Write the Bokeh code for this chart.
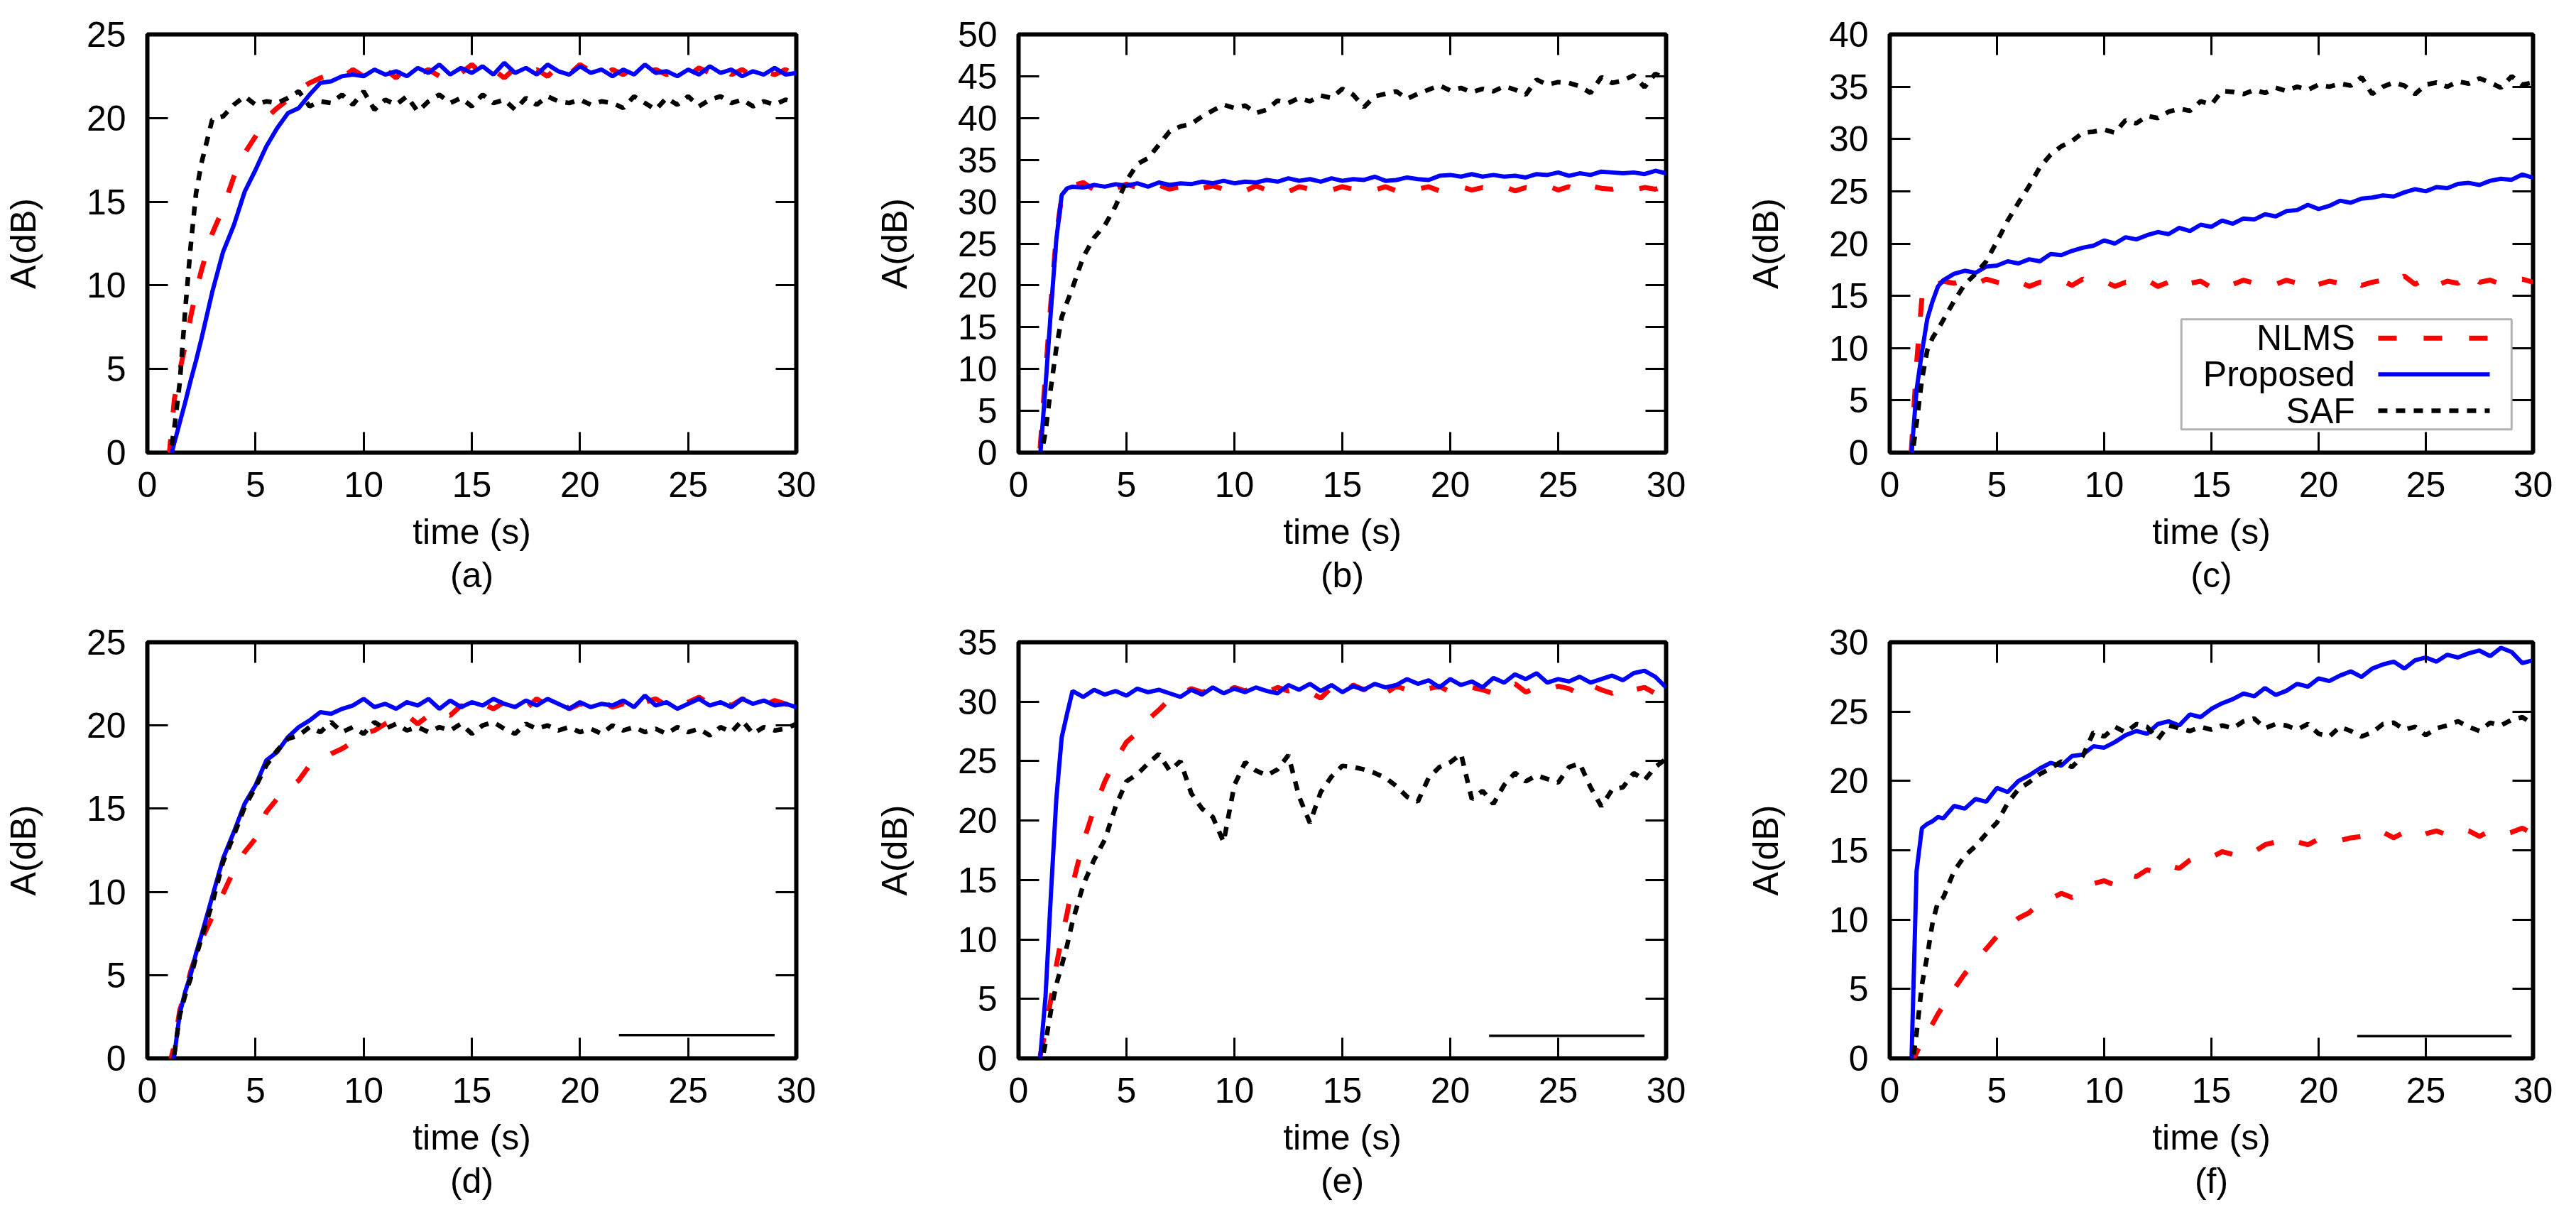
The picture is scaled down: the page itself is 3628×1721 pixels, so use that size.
from bokeh.plotting import figure
from bokeh.models import (Range1d, FixedTicker, LinearAxis, CustomJSTickFormatter,
                          Title, Label, BoxAnnotation, Arrow)
from bokeh.layouts import row, column
from bokeh.embed import file_html
from bokeh.resources import INLINE

FONT = "Liberation Sans"
FS = "50px"

# ---------------- data ----------------
T = [1.0, 1.25, 1.5, 1.75, 2.0, 2.25, 2.5,
     3.0, 3.5, 4.0, 4.5, 5.0, 5.5, 6.0, 6.5, 7.0, 7.5,
     8.0, 8.5, 9.0, 9.5, 10.0, 10.5, 11.0, 11.5, 12.0, 12.5,
     13.0, 13.5, 14.0, 14.5, 15.0, 15.5, 16.0, 16.5, 17.0, 17.5,
     18.0, 18.5, 19.0, 19.5, 20.0, 20.5, 21.0, 21.5, 22.0, 22.5,
     23.0, 23.5, 24.0, 24.5, 25.0, 25.5, 26.0, 26.5, 27.0, 27.5,
     28.0, 28.5, 29.0, 29.5, 30.0]

x_ticks = [0, 5, 10, 15, 20, 25, 30]
series_names = ["NLMS", "Proposed", "SAF"]
panel_tags = ["(a)", "(b)", "(c)", "(d)", "(e)", "(f)"]
y_max = [25, 50, 40, 25, 35, 30]

a_nlms = [-0.3, 3.2, 4.9, 6.4, 8.1, 9.6, 10.9,
          13.1, 14.6, 16.5, 17.9, 18.9, 20.0, 20.6, 21.1, 21.7, 22.1,
          22.4, 22.6, 22.4, 22.9, 22.5, 22.7, 22.9, 22.4, 23.1, 22.6,
          22.9, 22.5, 23.0, 22.7, 23.2, 22.6, 22.9, 22.4, 23.0, 22.7,
          22.9, 22.5, 23.1, 22.6, 23.2, 22.8, 22.5, 22.9, 22.6, 23.0,
          22.7, 22.9, 22.6, 22.8, 22.5, 23.0, 22.7, 23.1, 22.6, 22.9,
          22.5, 22.8, 22.6, 22.9, 22.5]
a_prop = [-0.7, 0.6, 1.8, 3.0, 4.3, 5.5, 6.8,
          9.6, 12.0, 13.6, 15.6, 16.9, 18.3, 19.4, 20.3, 20.6, 21.4,
          22.1, 22.2, 22.5, 22.6, 22.5, 22.9, 22.6, 22.8, 22.5, 23.0,
          22.7, 23.2, 22.6, 23.0, 22.7, 23.1, 22.6, 23.3, 22.7, 23.0,
          22.6, 23.2, 22.8, 22.6, 23.1, 22.7, 22.9, 22.5, 22.9, 22.6,
          23.2, 22.7, 22.8, 22.5, 22.9, 22.6, 23.1, 22.7, 22.9, 22.5,
          22.8, 22.6, 23.0, 22.6, 22.7]
a_saf = [-0.6, 1.5, 4.2, 8.5, 12.3, 15.5, 17.3,
         19.9, 20.1, 20.8, 21.3, 20.8, 21.0, 20.9, 21.2, 21.6, 20.7,
         21.0, 20.9, 21.4, 20.8, 21.6, 20.5, 21.1, 20.8, 21.3, 20.4,
         21.0, 21.4, 20.9, 21.2, 20.7, 21.4, 20.9, 21.1, 20.5, 21.2,
         20.8, 21.3, 21.0, 20.9, 21.1, 20.8, 21.0, 20.9, 20.6, 21.3,
         20.9, 20.5, 21.2, 20.8, 21.3, 20.7, 21.1, 21.3, 20.9, 21.1,
         20.7, 21.0, 20.8, 21.1, 20.9]

b_nlms = [0.5, 9.5, 18.0, 26.0, 30.6, 31.5, 31.9,
          32.3, 31.4, 32.0, 31.6, 32.1, 31.7, 31.4, 32.0, 31.5, 31.8,
          32.1, 31.6, 31.9, 31.5, 31.8, 31.3, 31.9, 31.4, 31.7, 31.2,
          31.8, 31.5, 31.7, 31.4, 31.8, 31.5, 31.7, 31.4, 31.8, 31.3,
          31.7, 31.5, 31.8, 31.3, 31.6, 31.8, 31.4, 31.7, 31.5, 31.8,
          31.3, 31.7, 31.5, 31.9, 31.4, 31.8, 31.3, 31.9, 31.6, 31.5,
          31.8, 31.4, 31.7, 31.5, 31.8]
b_prop = [-0.5, 8.0, 17.0, 25.5, 30.8, 31.6, 31.8,
          31.7, 32.0, 31.8, 32.1, 31.9, 32.2, 31.8, 32.3, 32.0, 32.2,
          32.1, 32.4, 32.2, 32.5, 32.2, 32.4, 32.3, 32.6, 32.4, 32.8,
          32.5, 32.7, 32.4, 32.8, 32.5, 32.7, 32.6, 33.0, 32.5, 32.6,
          32.9, 32.7, 32.6, 33.1, 33.2, 33.0, 33.3, 33.0, 33.2, 33.0,
          33.1, 32.9, 33.3, 33.2, 33.5, 33.1, 33.4, 33.2, 33.6, 33.5,
          33.4, 33.5, 33.3, 33.7, 33.4]
b_saf = [-1.0, 2.5, 7.8, 12.5, 16.2, 18.0, 19.7,
         23.4, 25.7, 27.2, 29.5, 32.5, 34.5, 35.2, 36.8, 38.4, 39.0,
         39.3, 40.2, 40.9, 41.6, 41.2, 41.5, 40.6, 41.0, 42.1, 41.8,
         42.4, 42.0, 42.7, 42.4, 43.5, 42.8, 41.3, 42.6, 42.9, 43.2,
         42.3, 42.9, 43.4, 43.9, 43.3, 43.6, 43.1, 43.5, 43.2, 43.8,
         43.4, 42.8, 44.6, 44.0, 44.3, 44.2, 43.8, 43.0, 44.9, 44.2,
         44.5, 45.1, 43.7, 45.3, 44.7]

c_nlms = [0.0, 8.5, 14.8, 16.0, 16.3, 16.1, 16.4,
          16.2, 16.5, 16.1, 16.6, 16.3, 16.0, 16.4, 15.9, 16.3, 16.2,
          16.5, 16.0, 16.6, 16.2, 16.4, 15.9, 16.3, 16.1, 16.5, 15.9,
          16.3, 16.8, 16.2, 16.4, 15.8, 16.3, 16.1, 16.5, 16.2, 16.4,
          16.1, 16.5, 16.2, 16.7, 16.1, 16.4, 16.2, 16.6, 16.0, 16.3,
          16.5, 16.2, 16.9, 16.1, 16.7, 16.0, 16.4, 16.2, 17.2, 16.3,
          16.5, 16.1, 16.4, 16.6, 16.3]
c_prop = [-0.5, 6.0, 9.6, 12.8, 14.5, 15.9, 16.5,
          17.1, 17.4, 17.2, 17.8, 17.9, 18.3, 18.1, 18.5, 18.3, 19.0,
          18.9, 19.3, 19.6, 19.8, 20.3, 20.0, 20.6, 20.4, 20.8, 21.1,
          20.9, 21.5, 21.2, 21.8, 21.6, 22.2, 21.9, 22.4, 22.3, 22.8,
          22.6, 23.1, 23.2, 23.7, 23.3, 23.6, 24.1, 23.9, 24.3, 24.4,
          24.6, 24.5, 24.9, 25.2, 25.0, 25.4, 25.3, 25.7, 25.8, 25.6,
          26.0, 26.2, 26.1, 26.6, 26.3]
c_saf = [-1.0, 2.8, 7.0, 9.8, 11.0, 11.8, 12.7,
         14.5, 16.1, 17.1, 18.3, 20.2, 22.2, 23.9, 25.5, 27.3, 28.5,
         29.3, 29.8, 30.6, 30.7, 30.9, 30.6, 31.8, 31.5, 32.2, 32.0,
         32.6, 32.9, 32.7, 33.6, 33.3, 34.6, 34.5, 34.3, 34.7, 34.4,
         34.9, 34.6, 35.0, 34.7, 35.2, 35.0, 35.3, 35.1, 35.9, 34.3,
         35.0, 35.4, 35.1, 34.3, 35.2, 35.4, 35.0, 35.5, 35.3, 35.8,
         35.4, 34.9, 36.0, 35.2, 35.4]

d_nlms = [-0.5, 0.8, 2.9, 3.9, 5.2, 6.2, 7.1,
          8.5, 9.9, 11.3, 12.4, 13.2, 14.8, 15.6, 16.2, 16.7, 17.6,
          17.9, 18.3, 18.6, 19.0, 19.5, 19.7, 20.1, 20.4, 20.6, 20.1,
          20.6, 20.9, 20.6, 21.2, 20.9, 21.3, 21.0, 21.4, 21.2, 21.0,
          21.6, 21.2, 21.5, 21.0, 21.3, 21.2, 21.5, 21.1, 21.3, 20.9,
          21.4, 21.6, 21.2, 21.0, 21.4, 21.7, 21.3, 21.5, 21.2, 21.6,
          21.4, 21.2, 21.5, 21.3, 21.0]
d_prop = [-0.8, 0.2, 2.7, 4.0, 5.0, 6.3, 7.4,
          9.7, 12.0, 13.6, 15.3, 16.4, 17.9, 18.4, 19.3, 19.9, 20.3,
          20.8, 20.7, 21.0, 21.2, 21.6, 21.1, 21.3, 21.0, 21.4, 21.2,
          21.6, 21.0, 21.5, 21.1, 21.4, 21.2, 21.6, 21.3, 21.1, 21.5,
          21.2, 21.6, 21.3, 21.0, 21.4, 21.1, 21.3, 21.2, 21.5, 21.1,
          21.8, 21.2, 21.4, 21.0, 21.3, 21.6, 21.2, 21.4, 21.1, 21.6,
          21.3, 21.5, 21.2, 21.3, 21.1]
d_saf = [-0.8, 0.3, 2.6, 3.8, 4.8, 6.1, 7.2,
         9.3, 11.8, 13.4, 15.1, 16.3, 17.6, 18.5, 19.2, 19.4, 19.9,
         19.6, 20.2, 19.6, 19.9, 19.5, 20.2, 19.8, 20.1, 19.7, 19.9,
         19.6, 19.9, 19.7, 20.1, 19.5, 20.0, 20.2, 19.8, 19.5, 20.1,
         19.8, 20.0, 19.7, 19.9, 19.6, 19.8, 19.5, 20.0, 19.7, 19.9,
         19.6, 19.8, 19.5, 19.9, 19.6, 19.8, 19.4, 19.9, 19.6, 20.3,
         19.5, 19.9, 19.7, 19.8, 20.1]

e_nlms = [0.2, 2.3, 5.0, 7.8, 10.2, 12.2, 14.6,
          18.2, 21.0, 23.3, 25.1, 26.6, 27.4, 28.5, 29.3, 30.2, 30.6,
          31.1, 30.8, 31.0, 30.7, 31.2, 30.9, 31.3, 30.8, 31.2, 30.9,
          31.1, 30.8, 30.3, 31.2, 30.6, 31.4, 31.0, 31.5, 30.7, 31.3,
          31.0, 31.4, 31.1, 31.3, 30.8, 31.1, 31.2, 31.0, 30.7, 31.3,
          31.5, 30.8, 31.2, 31.0, 31.3, 31.1, 30.6, 31.4, 31.0, 30.7,
          31.3, 31.0, 31.2, 30.7, 31.0]
e_prop = [0.0, 5.2, 13.8, 21.8, 27.0, 29.0, 30.9,
          30.4, 31.0, 30.6, 30.9, 30.5, 31.1, 30.8, 31.0, 30.7, 30.4,
          31.0, 30.6, 31.2, 30.7, 31.1, 30.8, 31.2, 30.9, 30.7, 31.4,
          31.0, 31.5, 30.9, 31.4, 30.8, 31.3, 31.0, 31.5, 31.2, 31.4,
          31.9, 31.5, 31.8, 31.2, 31.9, 31.4, 31.7, 31.2, 32.0, 31.6,
          32.3, 31.9, 32.4, 31.6, 31.9, 31.7, 32.1, 31.6, 31.9, 32.2,
          31.8, 32.4, 32.6, 32.1, 31.2]
e_saf = [-1.0, 1.3, 4.0, 6.2, 7.8, 9.5, 11.5,
         14.6, 16.7, 18.4, 21.2, 23.3, 23.9, 24.8, 25.6, 24.2, 25.0,
         22.3, 21.0, 20.3, 18.2, 23.0, 24.9, 24.2, 23.8, 24.3, 25.5,
         22.0, 19.8, 22.4, 23.7, 24.6, 24.5, 24.3, 24.0, 23.6, 22.9,
         22.0, 21.6, 23.6, 24.5, 24.9, 25.6, 21.8, 22.5, 21.4, 23.0,
         24.0, 23.3, 23.8, 23.5, 23.2, 24.5, 24.8, 22.8, 21.2, 22.6,
         22.8, 24.0, 23.4, 24.5, 25.2]

f_nlms = [-0.5, 0.4, 1.2, 1.9, 2.5, 3.2, 3.8,
          5.0, 6.1, 7.0, 7.9, 8.8, 9.4, 10.1, 10.5, 11.2, 11.5,
          11.9, 11.6, 12.3, 12.6, 12.8, 12.5, 13.3, 13.1, 13.6, 13.4,
          13.9, 13.7, 14.3, 14.7, 14.5, 14.9, 14.7, 15.1, 14.9, 15.4,
          15.6, 15.3, 15.6, 15.4, 15.8, 15.9, 15.7, 15.9, 16.0, 15.8,
          16.3, 15.9, 16.3, 15.9, 16.2, 16.4, 16.1, 16.5, 16.4, 16.0,
          16.4, 16.1, 16.3, 16.6, 16.2]
f_prop = [-1.0, 13.5, 16.6, 16.9, 17.1, 17.4, 17.3,
          18.2, 18.0, 18.7, 18.5, 19.5, 19.2, 20.0, 20.4, 20.9, 21.3,
          21.1, 21.8, 21.9, 22.5, 22.4, 22.8, 23.3, 23.6, 23.4, 24.1,
          24.3, 24.0, 24.8, 24.6, 25.2, 25.6, 25.9, 26.3, 26.1, 26.7,
          26.2, 26.5, 27.0, 26.8, 27.4, 27.2, 27.6, 27.9, 27.5, 28.1,
          28.4, 28.6, 28.1, 28.7, 28.9, 28.6, 29.1, 28.9, 29.2, 29.4,
          29.0, 29.6, 29.3, 28.5, 28.7]
f_saf = [-1.0, 1.8, 5.3, 7.4, 9.8, 11.3, 11.6,
         13.5, 14.6, 15.3, 16.2, 17.0, 18.4, 19.4, 19.9, 20.5, 20.9,
         21.4, 21.0, 21.8, 23.5, 23.2, 23.9, 23.5, 24.1, 23.9, 23.0,
         24.0, 23.8, 23.6, 23.9, 23.7, 24.0, 23.8, 24.3, 24.5, 23.8,
         24.1, 24.0, 23.7, 24.1, 23.4, 23.2, 23.9, 23.6, 23.2, 23.5,
         24.1, 24.2, 23.7, 23.9, 23.3, 23.8, 24.0, 24.3, 23.9, 23.6,
         24.2, 24.0, 24.4, 24.6, 24.1]

# short stray key line drawn near the bottom right of panels (d), (e), (f)
stray_x = [21.8, 29.0]
stray_y_d = 1.4
stray_y_e = 1.9
stray_y_f = 1.6

# ---------------- styling ----------------
STYLES = {
    "NLMS": dict(line_color="#ff0000", line_width=7, line_dash="26 38"),
    "Proposed": dict(line_color="#0000ff", line_width=6),
    "SAF": dict(line_color="#000000", line_width=6.5, line_dash="13 12"),
}


def style_axis(ax, ticks, labels=True):
    ax.ticker = FixedTicker(ticks=ticks)
    ax.major_tick_in = 29
    ax.major_tick_out = 0
    ax.major_tick_line_width = 3
    ax.major_tick_line_color = "black"
    ax.minor_tick_line_color = None
    ax.axis_line_color = None
    ax.major_label_text_font = FONT
    ax.major_label_text_color = "black"
    ax.axis_label_text_font = FONT
    ax.axis_label_text_font_size = FS
    ax.axis_label_text_font_style = "normal"
    ax.axis_label_text_color = "black"
    if labels:
        ax.major_label_text_font_size = FS
    else:
        ax.formatter = CustomJSTickFormatter(code="return ''")
        ax.major_label_text_font_size = "0px"


def make_panel(tag, ymax, nlms, prop, saf, width, height, bl, br, bt, bb):
    p = figure(width=width, height=height,
               x_range=Range1d(0, 30), y_range=Range1d(0, ymax),
               output_backend="svg", toolbar_location=None,
               min_border_left=bl, min_border_right=br,
               min_border_top=bt, min_border_bottom=bb,
               x_axis_label="time (s)", y_axis_label="A(dB)")
    p.background_fill_color = "white"
    p.border_fill_color = "white"
    p.xgrid.grid_line_color = None
    p.ygrid.grid_line_color = None
    p.outline_line_color = "black"
    p.outline_line_width = 6

    yt = list(range(0, ymax + 1, 5))
    style_axis(p.xaxis[0], x_ticks)
    style_axis(p.yaxis[0], yt)
    p.xaxis[0].major_label_standoff = 27
    p.xaxis[0].axis_label_standoff = 18
    p.yaxis[0].major_label_standoff = 30
    p.yaxis[0].axis_label_standoff = 58

    top = LinearAxis()
    style_axis(top, x_ticks, labels=False)
    p.add_layout(top, "above")
    right = LinearAxis()
    style_axis(right, yt, labels=False)
    p.add_layout(right, "right")

    for name, vals in zip(series_names, [nlms, prop, saf]):
        n = min(len(T), len(vals))
        p.line(T[:n], vals[:n], **STYLES[name])

    p.add_layout(Title(text=tag, align="center", text_font=FONT,
                       text_font_size=FS, text_font_style="normal",
                       text_color="black", standoff=0), "below")
    return p


def add_stray(p, yv):
    p.add_layout(Arrow(x_start=stray_x[0], y_start=yv, x_end=stray_x[1], y_end=yv,
                       end=None, line_color="black", line_width=3.5))


H1, H2 = 853, 852
pa = make_panel(panel_tags[0], y_max[0], a_nlms, a_prop, a_saf, 1192, H1, 207, 71, 48, 216)
pb = make_panel(panel_tags[1], y_max[1], b_nlms, b_prop, b_saf, 1220, H1, 242, 66, 48, 216)
pc = make_panel(panel_tags[2], y_max[2], c_nlms, c_prop, c_saf, 1200, H1, 249, 45, 48, 216)
pd = make_panel(panel_tags[3], y_max[3], d_nlms, d_prop, d_saf, 1192, H2, 207, 71, 51, 215)
pe = make_panel(panel_tags[4], y_max[4], e_nlms, e_prop, e_saf, 1220, H2, 242, 66, 51, 215)
pf = make_panel(panel_tags[5], y_max[5], f_nlms, f_prop, f_saf, 1200, H2, 249, 45, 51, 215)

add_stray(pd, stray_y_d)
add_stray(pe, stray_y_e)
add_stray(pf, stray_y_f)

# legend of panel (c): label on the left, line sample on the right
pc.add_layout(BoxAnnotation(left=13.6, right=29.0, bottom=2.22, top=12.75,
                            fill_color=None, line_color="black", line_width=3))
for name, yv in zip(series_names, [10.95, 7.48, 4.0]):
    pc.add_layout(Label(x=21.7, y=yv, text=name, text_align="right",
                        text_baseline="middle", text_font=FONT,
                        text_font_size=FS, text_color="black"))
    pc.add_layout(Arrow(x_start=22.78, y_start=yv, x_end=27.98, y_end=yv,
                        end=None, **STYLES[name]))

layout = column(row(pa, pb, pc), row(pd, pe, pf))

open("out.html", "w").write(file_html(layout, INLINE))
